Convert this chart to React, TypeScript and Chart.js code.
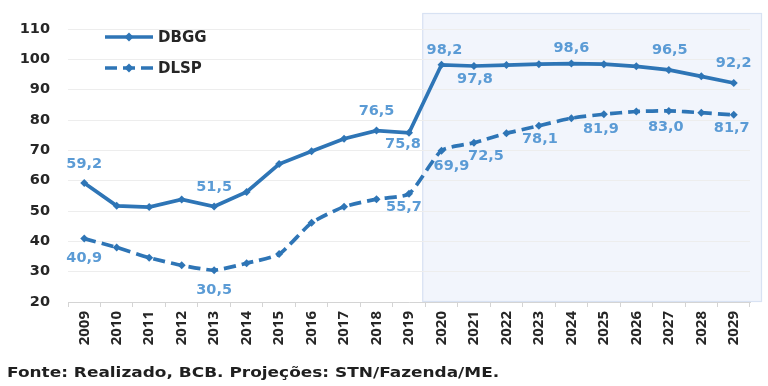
import React, { useEffect, useRef } from "react";
import { Chart, registerables } from "chart.js";

Chart.register(...registerables);

const years = ["2009","2010","2011","2012","2013","2014","2015","2016","2017","2018","2019","2020","2021","2022","2023","2024","2025","2026","2027","2028","2029"];
const dbgg = [59.2, 51.7, 51.3, 53.8, 51.5, 56.3, 65.5, 69.7, 73.8, 76.5, 75.8, 98.2, 97.8, 98.1, 98.4, 98.6, 98.4, 97.7, 96.5, 94.4, 92.2];
const dlsp = [40.9, 38.0, 34.6, 32.1, 30.5, 32.8, 35.8, 46.1, 51.4, 53.9, 55.7, 69.9, 72.5, 75.6, 78.1, 80.6, 81.9, 82.8, 83.0, 82.4, 81.7];
const seriesNames = ["DBGG", "DLSP"];
const yTicks = [20, 30, 40, 50, 60, 70, 80, 90, 100, 110];
const projectionStart = "2020";
const sourceNote = "Fonte: Realizado, BCB. Projeções: STN/Fazenda/ME.";

// which points carry a value label, and on which side
const dbggLabelAt = [0, 4, 9, 10, 11, 12, 15, 18, 20];
const dbggLabelSide = ["up", "up", "up", "down", "up", "down", "up", "up", "up"];
const dlspLabelAt = [0, 4, 10, 11, 12, 14, 16, 18, 20];
const dlspLabelSide = ["down", "down", "down", "down", "down", "down", "down", "down", "down"];

const LINE = "#2e75b6";
const LABEL = "#5b9bd5";
const TEXT = "#262626";

const labelNudge: Record<string, [number, number]> = {
  "0-0": [0, -19], "0-4": [0, -19], "0-9": [0, -19], "0-10": [-6, 11], "0-11": [3, -15],
  "0-12": [1, 13], "0-15": [0, -15], "0-18": [1, -20], "0-20": [0, -20],
  "1-0": [0, 20], "1-4": [0, 20], "1-10": [-5, 14], "1-11": [10, 16], "1-12": [12, 13],
  "1-14": [1, 13], "1-16": [-3, 15], "1-18": [-3, 16], "1-20": [-2, 13],
};

const fmt = (v: number) => v.toFixed(1).replace(".", ",");

const shadePlugin = {
  id: "shade",
  beforeDraw(chart: any) {
    const { ctx, chartArea, scales } = chart;
    const x = scales.x;
    const y = scales.y;
    const i = years.indexOf(projectionStart);
    const left = (x.getPixelForValue(i - 1) + x.getPixelForValue(i)) / 2 - 3;
    const right = chartArea.right + 11;
    const top = y.getPixelForValue(yTicks[yTicks.length - 1]) - 16;
    const bottom = y.getPixelForValue(yTicks[0]) - 1;
    ctx.save();
    ctx.fillStyle = "#f2f5fc";
    ctx.fillRect(left, top, right - left, bottom - top);
    ctx.strokeStyle = "#d8e2f3";
    ctx.lineWidth = 1.2;
    ctx.strokeRect(left + 0.5, top + 0.5, right - left, bottom - top);
    ctx.restore();
  },
};

const labelPlugin = {
  id: "valueLabels",
  afterDatasetsDraw(chart: any) {
    const { ctx } = chart;
    const sets = [
      { at: dbggLabelAt, side: dbggLabelSide, data: dbgg },
      { at: dlspLabelAt, side: dlspLabelSide, data: dlsp },
    ];
    ctx.save();
    ctx.font = "bold 14.5px 'DejaVu Sans'";
    ctx.fillStyle = LABEL;
    ctx.textAlign = "center";
    ctx.textBaseline = "middle";
    sets.forEach((s, di) => {
      const meta = chart.getDatasetMeta(di);
      s.at.forEach((idx, k) => {
        const pt = meta.data[idx];
        const n = labelNudge[`${di}-${idx}`] || [0, s.side[k] === "up" ? -17 : 15];
        ctx.fillText(fmt(s.data[idx]), pt.x + n[0], pt.y + n[1]);
      });
    });
    ctx.restore();
  },
};

const legendPlugin = {
  id: "insideLegend",
  afterDraw(chart: any) {
    const { ctx, chartArea } = chart;
    const x0 = chartArea.left + 37;
    const rows = [chartArea.top + 8, chartArea.top + 39];
    ctx.save();
    chart.data.datasets.forEach((ds: any, i: number) => {
      const yy = rows[i];
      ctx.strokeStyle = ds.borderColor;
      ctx.lineWidth = 3.5;
      ctx.setLineDash(ds.borderDash || []);
      ctx.beginPath();
      ctx.moveTo(x0, yy);
      ctx.lineTo(x0 + 48, yy);
      ctx.stroke();
      ctx.setLineDash([]);
      ctx.fillStyle = ds.borderColor;
      ctx.beginPath();
      const cx = x0 + 24, r = 4.5;
      ctx.moveTo(cx, yy - r);
      ctx.lineTo(cx + r, yy);
      ctx.lineTo(cx, yy + r);
      ctx.lineTo(cx - r, yy);
      ctx.closePath();
      ctx.fill();
      ctx.fillStyle = TEXT;
      ctx.font = "bold 15px 'DejaVu Sans'";
      ctx.textBaseline = "middle";
      ctx.textAlign = "left";
      ctx.fillText(ds.label, x0 + 53, yy + 1);
    });
    ctx.restore();
  },
};

export default function App() {
  const ref = useRef<HTMLCanvasElement>(null);
  useEffect(() => {
    if (!ref.current) return;
    const chart = new Chart(ref.current, {
      type: "line",
      data: {
        labels: years,
        datasets: [
          {
            label: seriesNames[0],
            data: dbgg,
            borderColor: LINE,
            backgroundColor: LINE,
            borderWidth: 3.7,
            pointStyle: "rectRot",
            pointRadius: 4,
            pointBorderWidth: 0,
            tension: 0,
          },
          {
            label: seriesNames[1],
            data: dlsp,
            borderColor: LINE,
            backgroundColor: LINE,
            borderWidth: 3.7,
            borderDash: [12, 6],
            pointStyle: "rectRot",
            pointRadius: 4,
            pointBorderWidth: 0,
            tension: 0.2,
          },
        ],
      },
      options: {
        animation: false,
        responsive: false,
        maintainAspectRatio: false,
        layout: { padding: { top: 29, right: 18, bottom: 0, left: 0 } },
        plugins: { legend: { display: false }, tooltip: { enabled: false } },
        scales: {
          x: {
            type: "category",
            offset: true,
            afterFit: (s: any) => { s.height = 84; },
            grid: { offset: true, drawOnChartArea: false, drawTicks: true, tickLength: 5, color: "#d4d4d4" },
            border: { display: true, color: "#d4d4d4", width: 1 },
            ticks: {
              minRotation: 90,
              maxRotation: 90,
              autoSkip: false,
              padding: 4,
              color: TEXT,
              font: { family: "'Open Sans'", weight: "bold", size: 15 },
            },
          },
          y: {
            min: yTicks[0],
            max: yTicks[yTicks.length - 1],
            afterFit: (s: any) => { s.width = 68; },
            afterBuildTicks: (s: any) => { s.ticks = yTicks.map((v) => ({ value: v })); },
            grid: { color: "#ededed", drawTicks: false },
            border: { display: false },
            ticks: {
              padding: 18,
              color: TEXT,
              font: { family: "'DejaVu Sans'", weight: "bold", size: 14.5 },
            },
          },
        },
      },
      plugins: [shadePlugin, labelPlugin, legendPlugin],
    });
    return () => chart.destroy();
  }, []);
  return (
    <div style={{ position: "fixed", left: 0, top: 0, width: 768, height: 386, background: "#fff" }}>
      <canvas ref={ref} width={768} height={386} style={{ width: 768, height: 386, display: "block" }} />
      <div
        style={{
          position: "absolute",
          left: 7,
          top: 362,
          fontFamily: "'DejaVu Sans'",
          fontWeight: "bold",
          fontSize: 14,
          color: "#1f1f1f",
          whiteSpace: "nowrap",
          lineHeight: "20px",
          transform: "scaleX(1.21)",
          transformOrigin: "0 0",
        }}
      >
        {sourceNote}
      </div>
    </div>
  );
}
